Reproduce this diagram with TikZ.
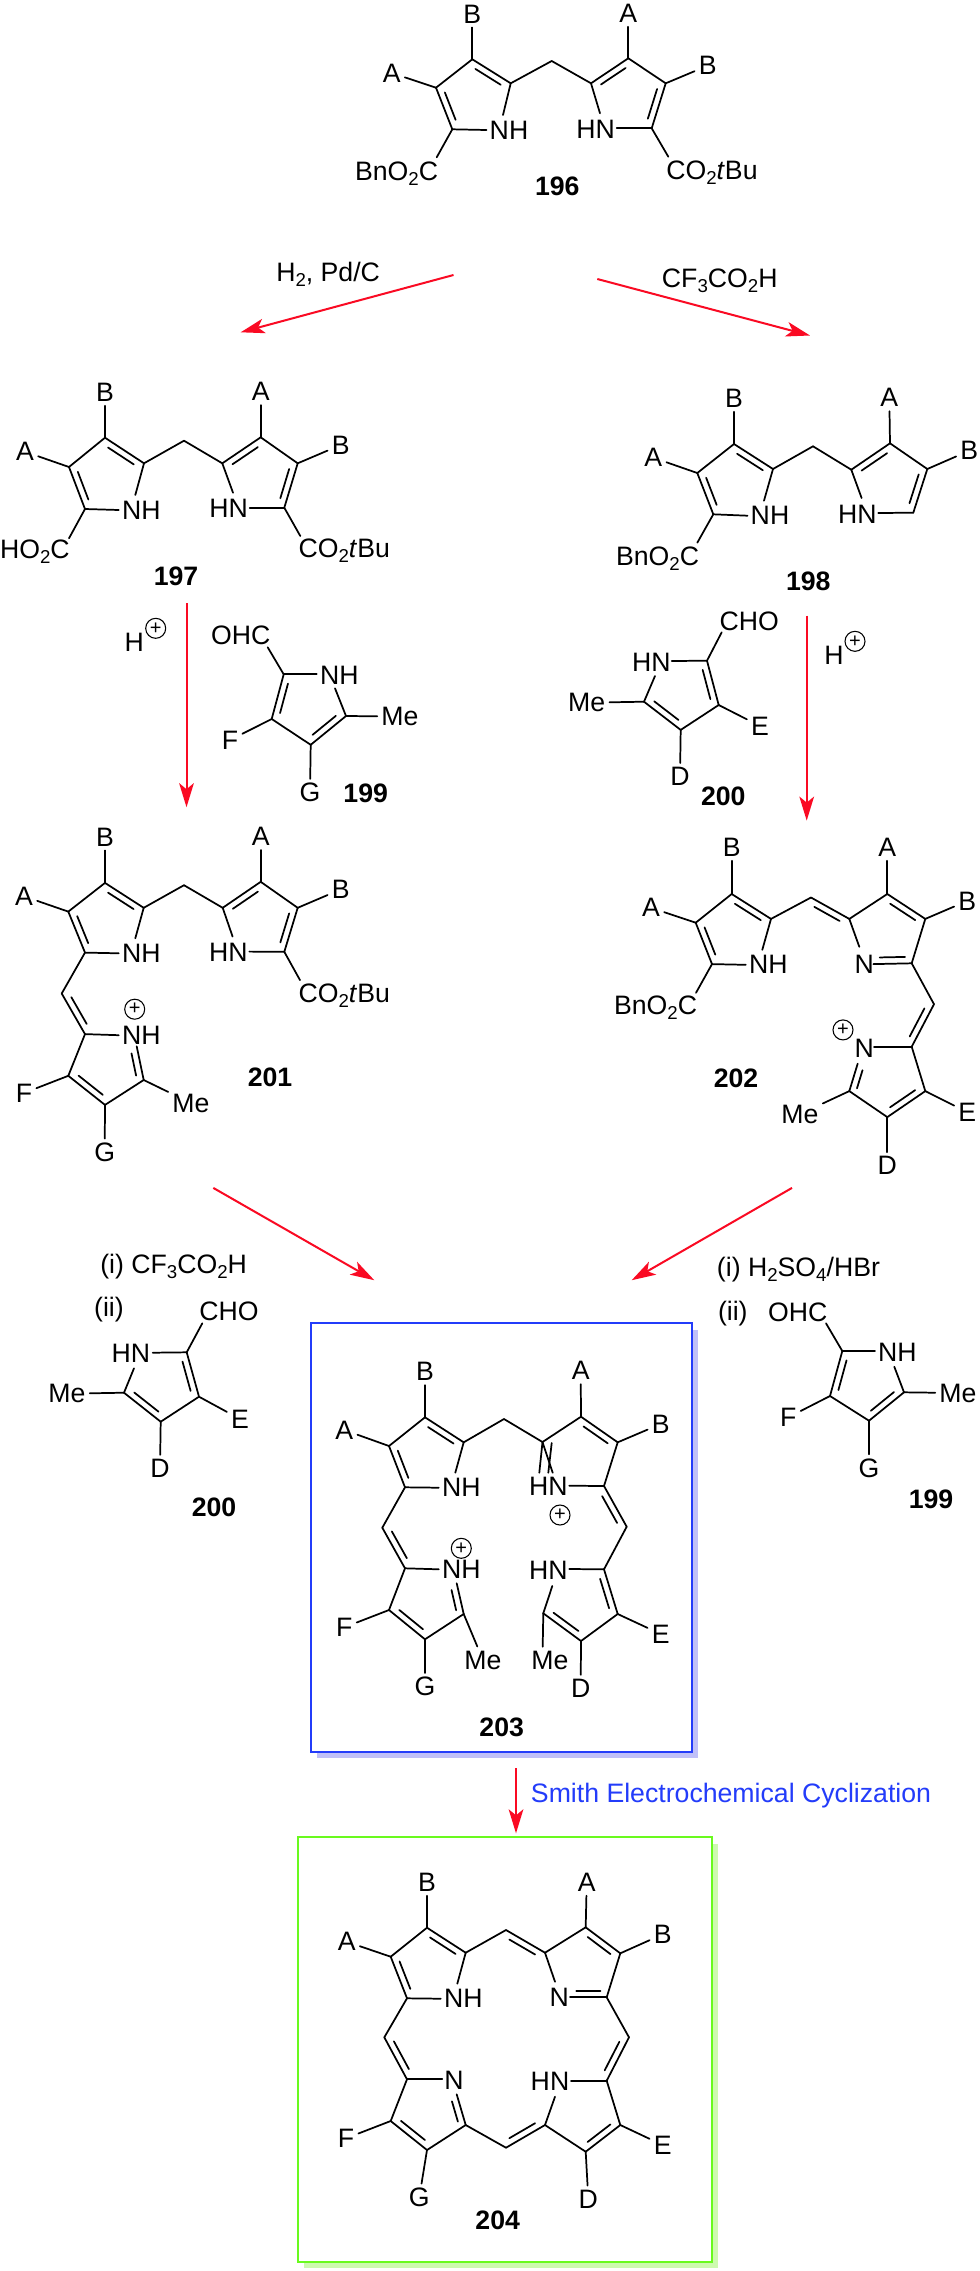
\documentclass[tikz,border=0pt]{standalone}
\usepackage{fontspec}
\setmainfont{Liberation Sans}
\usetikzlibrary{arrows.meta,calc}
\definecolor{rxn}{RGB}{250,10,35}
\definecolor{bluebox}{RGB}{35,60,250}
\definecolor{blueshadow}{RGB}{192,192,248}
\definecolor{greenbox}{RGB}{105,250,30}
\definecolor{greenshadow}{RGB}{205,250,175}
\tikzset{
  bond/.style={line width=1.3pt,line cap=round,line join=round},
  atom/.style={font=\fontsize{20}{22}\selectfont,inner sep=3pt,text=black},
  txt/.style={font=\fontsize{20}{22}\selectfont,inner sep=0pt,text=black},
  num/.style={font=\fontsize{20}{22}\selectfont\bfseries,inner sep=0pt,text=black},
  chg/.style={circle,draw=black,line width=0.8pt,minimum size=15pt,inner sep=0pt,font=\fontsize{15}{15}\selectfont},
  rarrow/.style={draw=rxn,line width=1.5pt,-{Stealth[length=18pt,width=11pt,inset=4.5pt]}}
}
\newcommand\vx[3]{\coordinate (#1) at (#2,#3);}
\newcommand\lbl[4]{\node[atom] (#1) at (#2,#3) {#4};}
\newcommand\bS[2]{\draw[bond] (#1) -- (#2);}
\newcommand\bD[2]{\draw[bond] (#1) -- (#2);\draw[bond] ($(#1)!.17!(#2)!4.9pt!90:(#2)$) -- ($(#2)!.17!(#1)!-4.9pt!90:(#1)$);}
\newcommand\NHnode[3]{\node[atom] (#1) at (#2,#3) {NH};\coordinate (#1u) at ($(#1.center)+(-6,-15)$);\coordinate (#1h) at ($(#1.center)+(-22.5,0)$);}
\newcommand\HNnode[3]{\node[atom] (#1) at (#2,#3) {HN};\coordinate (#1u) at ($(#1.center)+(4.3,-16)$);\coordinate (#1h) at ($(#1.center)+(21,-1)$);}
\newcommand\lowd[1]{\raisebox{-3.75pt}{\fontsize{14}{14}\selectfont #1}}
\begin{document}
\begin{tikzpicture}[x=0.75pt,y=-0.75pt]
\useasboundingbox (0,0) rectangle (980,2271);
\fill[white] (0,0) rectangle (980,2271);

% ---------- boxes
\fill[blueshadow] (317.4,1330) rectangle (698.4,1758.4);
\draw[bluebox,line width=1.5pt,fill=white] (310.7,1323.3) rectangle (691.7,1751.7);
\fill[greenshadow] (304.4,1844) rectangle (718.4,2268.4);
\draw[greenbox,line width=1.5pt,fill=white] (297.7,1837.3) rectangle (711.7,2261.7);

% ---------- 196
\vx{a1}{472.3}{59.3}\vx{a2}{510.7}{83.3}\vx{a3}{452.3}{129.3}\vx{a4}{436}{87.7}\vx{a5}{551.7}{61}
\vx{a6}{591}{83.3}\vx{a7}{628.3}{58.3}\vx{a8}{665.7}{83.3}\vx{a9}{651.7}{128.3}
\NHnode{an}{509}{130}\HNnode{am}{595.7}{129.3}
\lbl{aB}{472.3}{14}{B}\lbl{aA}{391.7}{73}{A}\lbl{aA2}{628.3}{13.3}{A}\lbl{aB2}{707.7}{65.7}{B}
\node[txt,anchor=base east] (aL) at (438.3,180) {BnO\lowd{2}C};
\node[txt,anchor=base west] (aR) at (666,179) {CO\lowd{2}\textit{t}Bu};
\vx{aLe}{436.7}{157.3}\vx{aRe}{668.3}{156.7}
\node[num] (n196) at (557.3,186.7) {196};
\bD{a2}{a1}\bD{a4}{a3}\bS{a1}{a4}\bS{a2}{anu}\bS{a3}{anh}\bS{a2}{a5}\bS{a5}{a6}
\bD{a7}{a6}\bD{a9}{a8}\bS{a7}{a8}\bS{a6}{amu}\bS{a9}{amh}
\bS{a1}{aB}\bS{a4}{aA}\bS{a7}{aA2}\bS{a8}{aB2}\bS{a3}{aLe}\bS{a9}{aRe}

% ---------- 197
\vx{b1}{105}{437.7}\vx{b2}{144}{463.3}\vx{b3}{85}{509}\vx{b4}{69}{467}\vx{b5}{184}{440.7}
\vx{b6}{222.3}{463.3}\vx{b7}{260.7}{437.3}\vx{b8}{297.7}{463.3}\vx{b9}{284.3}{507.7}
\NHnode{bn}{141.3}{510}\HNnode{bm}{228.7}{508.7}
\lbl{bB}{105}{392.3}{B}\lbl{bA}{25}{451.7}{A}\lbl{bA2}{260.7}{391.7}{A}\lbl{bB2}{340.7}{445}{B}
\node[txt,anchor=base east] (bL) at (70,558.3) {HO\lowd{2}C};
\node[txt,anchor=base west] (bR) at (298.3,557.3) {CO\lowd{2}\textit{t}Bu};
\vx{bLe}{69}{538.3}\vx{bRe}{300.3}{536}
\node[num] (n197) at (176,576) {197};
\bD{b2}{b1}\bD{b4}{b3}\bS{b1}{b4}\bS{b2}{bnu}\bS{b3}{bnh}\bS{b2}{b5}\bS{b5}{b6}
\bD{b7}{b6}\bD{b9}{b8}\bS{b7}{b8}\bS{b6}{bmu}\bS{b9}{bmh}
\bS{b1}{bB}\bS{b4}{bA}\bS{b7}{bA2}\bS{b8}{bB2}\bS{b3}{bLe}\bS{b9}{bRe}

% ---------- 198
\vx{c1}{734}{444}\vx{c2}{773}{469}\vx{c3}{713.3}{514.3}\vx{c4}{697.3}{473}\vx{c5}{813}{446.3}
\vx{c6}{851.3}{469.7}\vx{c7}{890}{443.3}\vx{c8}{927.3}{469}\vx{c9}{913.3}{512.7}
\NHnode{cn}{770}{515.7}\HNnode{cm}{857.3}{514}
\lbl{cB}{734}{398.3}{B}\lbl{cA}{653.3}{457.7}{A}\lbl{cA2}{889.3}{397.7}{A}\lbl{cB2}{969.3}{450.7}{B}
\node[txt,anchor=base east] (cL) at (699.3,565) {BnO\lowd{2}C};
\vx{cLe}{697.3}{542.7}
\node[num] (n198) at (808.3,581.7) {198};
\bD{c2}{c1}\bD{c4}{c3}\bS{c1}{c4}\bS{c2}{cnu}\bS{c3}{cnh}\bS{c2}{c5}\bS{c5}{c6}
\bD{c7}{c6}\bD{c9}{c8}\bS{c7}{c8}\bS{c6}{cmu}\bS{c9}{cmh}
\bS{c1}{cB}\bS{c4}{cA}\bS{c7}{cA2}\bS{c8}{cB2}\bS{c3}{cLe}

% ---------- 199 (upper)
\vx{d1}{283.7}{674.3}\vx{d2}{346}{716}\vx{d3}{310.7}{744.8}\vx{d4}{271.7}{719}
\node[atom] (dn) at (339.3,675) {NH};
\vx{dnh}{316.7}{674.3}\vx{dnd}{335}{688.3}
\lbl{dO}{240.7}{635}{OHC}\vx{dOe}{267.7}{647.3}
\lbl{dMe}{400}{716.5}{Me}\lbl{dF}{230}{740}{F}\lbl{dG}{310}{792.6}{G}
\node[num] (n199a) at (365.7,793.8) {199};
\bS{d1}{dnh}\bS{dnd}{d2}\bD{d3}{d2}\bS{d3}{d4}\bD{d1}{d4}
\bS{d1}{dOe}\bS{d2}{dMe}\bS{d4}{dF}\bS{d3}{dG}

% ---------- 200 (upper)
\vx{e1}{707}{660.7}\vx{e2}{718.7}{705}\vx{e3}{680.7}{729.9}\vx{e4}{644}{701.7}
\node[atom] (em) at (651.3,662.3) {HN};
\vx{emh}{671.7}{661}\vx{emd}{655}{676}
\lbl{eC}{749.3}{621}{CHO}\vx{eCe}{721.7}{632.3}
\lbl{eMe}{586.7}{702.7}{Me}\lbl{eE}{760}{726}{E}\lbl{eD}{680}{776.5}{D}
\node[num] (n200a) at (723.3,796.4) {200};
\bD{e2}{e1}\bD{e4}{e3}\bS{e3}{e2}\bS{e4}{emd}\bS{e1}{emh}
\bS{e1}{eCe}\bS{e4}{eMe}\bS{e2}{eE}\bS{e3}{eD}

% ---------- 201
\vx{f1}{105}{882.9}\vx{f2}{143.7}{907.8}\vx{f3}{85}{952.6}\vx{f4}{68.3}{911.6}\vx{f5}{184}{885.2}
\vx{f6}{222.7}{907.8}\vx{f7}{260.7}{881.8}\vx{f8}{297.7}{907.8}\vx{f9}{284.3}{951.8}
\NHnode{fn}{141.3}{953.3}\HNnode{fm}{228.3}{952.6}
\lbl{fB}{105}{837}{B}\lbl{fA}{24}{896.3}{A}\lbl{fA2}{260.7}{836.6}{A}\lbl{fB2}{340.7}{889.4}{B}
\node[txt,anchor=base west] (fR) at (298.3,1002.3) {CO\lowd{2}\textit{t}Bu};
\vx{fRe}{300}{980.1}
\vx{f12}{61.7}{993.5}\vx{f13}{85}{1034.1}\vx{f14}{143.7}{1080}\vx{f15}{105}{1104.9}\vx{f16}{68.3}{1075.8}
\NHnode{fp}{141.3}{1035.2}\vx{f17}{136.7}{1046.3}
\node[chg] (fc) at (134.7,1009.2) {+};
\lbl{fMe}{191}{1103}{Me}\lbl{fF}{24}{1093}{F}\lbl{fG}{104.7}{1152.3}{G}
\node[num] (n201) at (270,1077.7) {201};
\bD{f2}{f1}\bD{f4}{f3}\bS{f1}{f4}\bS{f2}{fnu}\bS{f3}{fnh}\bS{f2}{f5}\bS{f5}{f6}
\bD{f7}{f6}\bD{f9}{f8}\bS{f7}{f8}\bS{f6}{fmu}\bS{f9}{fmh}
\bS{f1}{fB}\bS{f4}{fA}\bS{f7}{fA2}\bS{f8}{fB2}\bS{f9}{fRe}
\bS{f3}{f12}\bD{f12}{f13}\bS{f13}{fph}\bD{f14}{f17}\bS{f14}{f15}\bD{f16}{f15}\bS{f13}{f16}
\bS{f14}{fMe}\bS{f16}{fF}\bS{f15}{fG}

% ---------- 202
\vx{g1}{731.7}{894}\vx{g2}{771}{918.9}\vx{g3}{712}{964.1}\vx{g4}{695.7}{922.7}\vx{g5}{811}{897.5}
\vx{g6}{849.3}{918.9}\vx{g7}{887.3}{894}\vx{g8}{925.3}{918.9}\vx{g9}{911.7}{963.3}
\NHnode{gn}{768.3}{964.8}
\lbl{gN}{864.3}{964.1}{N}\vx{gNh}{873.3}{964.1}\vx{gNu}{859.3}{946.8}
\lbl{gB}{731.7}{847.3}{B}\lbl{gA}{651}{907.8}{A}\lbl{gA2}{887.3}{847.3}{A}\lbl{gB2}{967.3}{900.9}{B}
\node[txt,anchor=base east] (gL) at (697.3,1014.6) {BnO\lowd{2}C};
\vx{gLe}{696}{992.8}
\vx{g10}{934}{1004.2}\vx{g11}{911.7}{1046.7}\vx{g12}{849.3}{1091.1}\vx{g13}{887.3}{1117.1}\vx{g14}{925.3}{1091.1}
\lbl{gP}{864.3}{1048.3}{N}\vx{gPh}{874}{1046.7}\vx{gPd}{857.7}{1063.6}
\node[chg] (gc) at (843,1029.9) {+};
\lbl{gMe}{800}{1114.1}{Me}\lbl{gE}{967.3}{1112.2}{E}\lbl{gD}{887.3}{1165.7}{D}
\node[num] (n202) at (736,1078.1) {202};
\bD{g2}{g1}\bD{g4}{g3}\bS{g1}{g4}\bS{g2}{gnu}\bS{g3}{gnh}\bS{g2}{g5}\bD{g6}{g5}
\bD{g8}{g7}\bS{g6}{g7}\bS{g8}{g9}\bD{gNh}{g9}\bS{g6}{gNu}
\bS{g1}{gB}\bS{g4}{gA}\bS{g7}{gA2}\bS{g8}{gB2}\bS{g3}{gLe}
\bS{g9}{g10}\bD{g11}{g10}\bS{g11}{gPh}\bD{gPd}{g12}\bS{g12}{g13}\bD{g13}{g14}\bS{g14}{g11}
\bS{g12}{gMe}\bS{g14}{gE}\bS{g13}{gD}

% ---------- 200 (lower)
\vx{j1}{186.7}{1352.3}\vx{j2}{199}{1396.7}\vx{j3}{160.7}{1421.7}\vx{j4}{124}{1392.7}
\node[atom] (jm) at (131,1353.3) {HN};
\vx{jmh}{152.7}{1352.7}\vx{jmd}{134}{1368.3}
\lbl{jC}{229}{1311}{CHO}\vx{jCe}{202.3}{1323.3}
\lbl{jMe}{67}{1393.7}{Me}\lbl{jE}{240}{1419}{E}\lbl{jD}{160}{1468.3}{D}
\node[num] (n200b) at (214,1507) {200};
\bD{j2}{j1}\bD{j4}{j3}\bS{j3}{j2}\bS{j4}{jmd}\bS{j1}{jmh}
\bS{j1}{jCe}\bS{j4}{jMe}\bS{j2}{jE}\bS{j3}{jD}
\node[txt,anchor=base west] (ri1) at (100,1273.3) {(i) CF\lowd{3}CO\lowd{2}H};
\node[txt] (rii1) at (109,1310) {(ii)};

% ---------- 199 (lower)
\vx{k1}{842.3}{1351}\vx{k2}{904}{1392.3}\vx{k3}{869}{1420.7}\vx{k4}{830}{1396}
\node[atom] (kn) at (897.3,1352.3) {NH};
\vx{knh}{875}{1351}\vx{knd}{894.3}{1366.7}
\lbl{kO}{797.7}{1312.3}{OHC}\vx{kOe}{826}{1323.3}
\lbl{kMe}{958}{1393}{Me}\lbl{kF}{788.3}{1417.3}{F}\lbl{kG}{869}{1468}{G}
\node[num] (n199b) at (931,1499) {199};
\bS{k1}{knh}\bS{knd}{k2}\bD{k3}{k2}\bS{k3}{k4}\bD{k1}{k4}
\bS{k1}{kOe}\bS{k2}{kMe}\bS{k4}{kF}\bS{k3}{kG}
\node[txt,anchor=base west] (ri2) at (716.7,1276) {(i) H\lowd{2}SO\lowd{4}/HBr};
\node[txt] (rii2) at (732.8,1313.3) {(ii)};

% ---------- 203
\vx{h1}{425}{1417.3}\vx{h2}{463.7}{1442.3}\vx{h3}{405}{1487.3}\vx{h4}{389}{1446}\vx{h5}{504}{1419}
\vx{h6}{542.5}{1442}\vx{h7}{581}{1416.7}\vx{h8}{617.7}{1442.3}\vx{h9}{604}{1486}
\NHnode{hn}{461.3}{1487.7}\HNnode{hm}{548.3}{1486.7}
\vx{hx1}{552.7}{1472.7}\vx{hx2}{539.3}{1472.7}\vx{hx3}{551.7}{1443}\vx{hx4}{548.3}{1472.7}
\lbl{hB}{425}{1371.7}{B}\lbl{hA}{344.3}{1430}{A}\lbl{hA2}{580.7}{1370.7}{A}\lbl{hB2}{660.7}{1424}{B}
\node[chg] (hc1) at (560,1515) {+};
\vx{h10}{626.7}{1526.7}\vx{h11}{604}{1569.3}\vx{h12}{617.7}{1614}\vx{h13}{581}{1641}\vx{h14}{543.3}{1613.3}
\HNnode{hq}{548.3}{1570}\vx{hqd}{552.3}{1586}\vx{hMe2}{542.7}{1646.7}
\lbl{hMeb}{550}{1660.7}{Me}\lbl{hD}{580.7}{1688.3}{D}\lbl{hE}{660.7}{1634}{E}
\vx{h15}{382.3}{1527.7}\vx{h16}{405}{1568.3}\vx{h17}{463.7}{1614}\vx{h18}{425}{1639.3}\vx{h19}{389}{1610}
\NHnode{hp}{461.3}{1569.3}\vx{h20}{456.7}{1583.3}
\node[chg] (hc2) at (461.3,1548.3) {+};
\lbl{hMea}{483}{1660}{Me}\lbl{hF}{344.3}{1627.3}{F}\lbl{hG}{425}{1686.7}{G}
\node[num] (n203) at (501.7,1727.7) {203};
\bD{h2}{h1}\bD{h4}{h3}\bS{h1}{h4}\bS{h2}{hnu}\bS{h3}{hnh}\bS{h2}{h5}\bS{h5}{h6}
\bS{h6}{h7}\bD{h8}{h7}\bS{h8}{h9}\bS{h9}{hmh}\bS{h6}{hx1}\bS{h6}{hx2}\bS{hx3}{hx4}
\bS{h1}{hB}\bS{h4}{hA}\bS{h7}{hA2}\bS{h8}{hB2}
\bD{h10}{h9}\bS{h10}{h11}\bS{h11}{hqh}\bD{h12}{h11}\bS{h12}{h13}\bD{h14}{h13}\bS{hqd}{h14}
\bS{h14}{hMe2}\bS{h13}{hD}\bS{h12}{hE}
\bS{h3}{h15}\bD{h15}{h16}\bS{h16}{hph}\bS{h16}{h19}\bD{h19}{h18}\bS{h18}{h17}\bD{h17}{h20}
\bS{h17}{hMea}\bS{h19}{hF}\bS{h18}{hG}

% ---------- 204
\vx{i1}{427}{1927.7}\vx{i2}{465.7}{1952.7}\vx{i3}{407}{1998.3}\vx{i4}{390.7}{1956.7}
\vx{i5}{506}{1930}\vx{i6}{545}{1952.7}\vx{i7}{585.7}{1927.3}\vx{i8}{620.3}{1953.3}\vx{i9}{606.7}{1997.3}
\NHnode{in}{463.3}{1998.7}
\lbl{iN}{559.3}{1997.3}{N}\vx{iNh}{570}{1997.3}\vx{iNu}{555}{1981.7}
\vx{i10}{629}{2037.3}\vx{i11}{606.7}{2080.7}\vx{i12}{545}{2125}\vx{i13}{585.7}{2151.7}\vx{i14}{620.3}{2125}
\HNnode{im}{550}{2081.7}\vx{imd}{555}{2096.7}
\vx{i15}{506}{2147.7}\vx{i16}{465.7}{2125}\vx{i17}{427}{2150}\vx{i18}{390.7}{2121}\vx{i19}{407}{2079.3}
\lbl{iP}{454}{2080}{N}\vx{iPh}{442.3}{2079.3}\vx{iPd}{456.7}{2094.3}
\vx{i20}{384.3}{2037.3}
\lbl{iB}{427}{1882.3}{B}\lbl{iA}{346.7}{1941.7}{A}\lbl{iA2}{586.7}{1882.3}{A}\lbl{iB2}{662.7}{1934.3}{B}
\lbl{iE}{662.7}{2145}{E}\lbl{iD}{588.3}{2199}{D}\lbl{iF}{346}{2138.3}{F}\lbl{iG}{419.3}{2197.3}{G}
\node[num] (n204) at (497.7,2220.7) {204};
\bD{i2}{i1}\bD{i4}{i3}\bS{i1}{i4}\bS{i2}{inu}\bS{i3}{inh}\bS{i2}{i5}\bD{i6}{i5}
\bS{i6}{i7}\bD{i8}{i7}\bS{i8}{i9}\bD{iNh}{i9}\bS{i6}{iNu}
\bS{i9}{i10}\bD{i11}{i10}\bS{i11}{imh}\bS{i11}{i14}\bD{i13}{i14}\bS{i12}{i13}\bS{imd}{i12}
\bD{i15}{i12}\bS{i16}{i15}\bS{i17}{i16}\bD{i18}{i17}\bS{i19}{i18}\bS{i19}{iPh}\bD{i16}{iPd}
\bS{i3}{i20}\bD{i20}{i19}
\bS{i1}{iB}\bS{i4}{iA}\bS{i7}{iA2}\bS{i8}{iB2}\bS{i14}{iE}\bS{i13}{iD}\bS{i18}{iF}\bS{i17}{iG}

% ---------- reaction arrows and their labels
\node[txt,anchor=base west] (r1) at (276,281.7) {H\lowd{2}, Pd/C};
\node[txt,anchor=base west] (r2) at (661.7,287.3) {CF\lowd{3}CO\lowd{2}H};
\node[txt] (rH1) at (134.3,642.3) {H};\node[chg] (rH1c) at (155.7,628.3) {+};
\node[txt] (rH2) at (834,655.7) {H};\node[chg] (rH2c) at (855,641.3) {+};
\node[txt,anchor=base west,text=bluebox] (rS) at (530.7,1802.3) {Smith Electrochemical Cyclization};
\vx{s1}{453.5}{275}\vx{t1}{240.7}{332.3}
\vx{s2}{597.3}{279}\vx{t2}{810}{335.5}
\vx{s3}{186.5}{603.3}\vx{t3}{186.5}{807.2}
\vx{s4}{806.7}{615.7}\vx{t4}{806.7}{820.6}
\vx{s5}{213.3}{1187.9}\vx{t5}{374.3}{1280.2}
\vx{s6}{792}{1187.9}\vx{t6}{631.7}{1280.2}
\vx{s7}{516}{1768}\vx{t7}{516}{1833.3}
\draw[rarrow] (s1) -- (t1);
\draw[rarrow] (s2) -- (t2);
\draw[rarrow] (s3) -- (t3);
\draw[rarrow] (s4) -- (t4);
\draw[rarrow] (s5) -- (t5);
\draw[rarrow] (s6) -- (t6);
\draw[rarrow] (s7) -- (t7);
\end{tikzpicture}
\end{document}
